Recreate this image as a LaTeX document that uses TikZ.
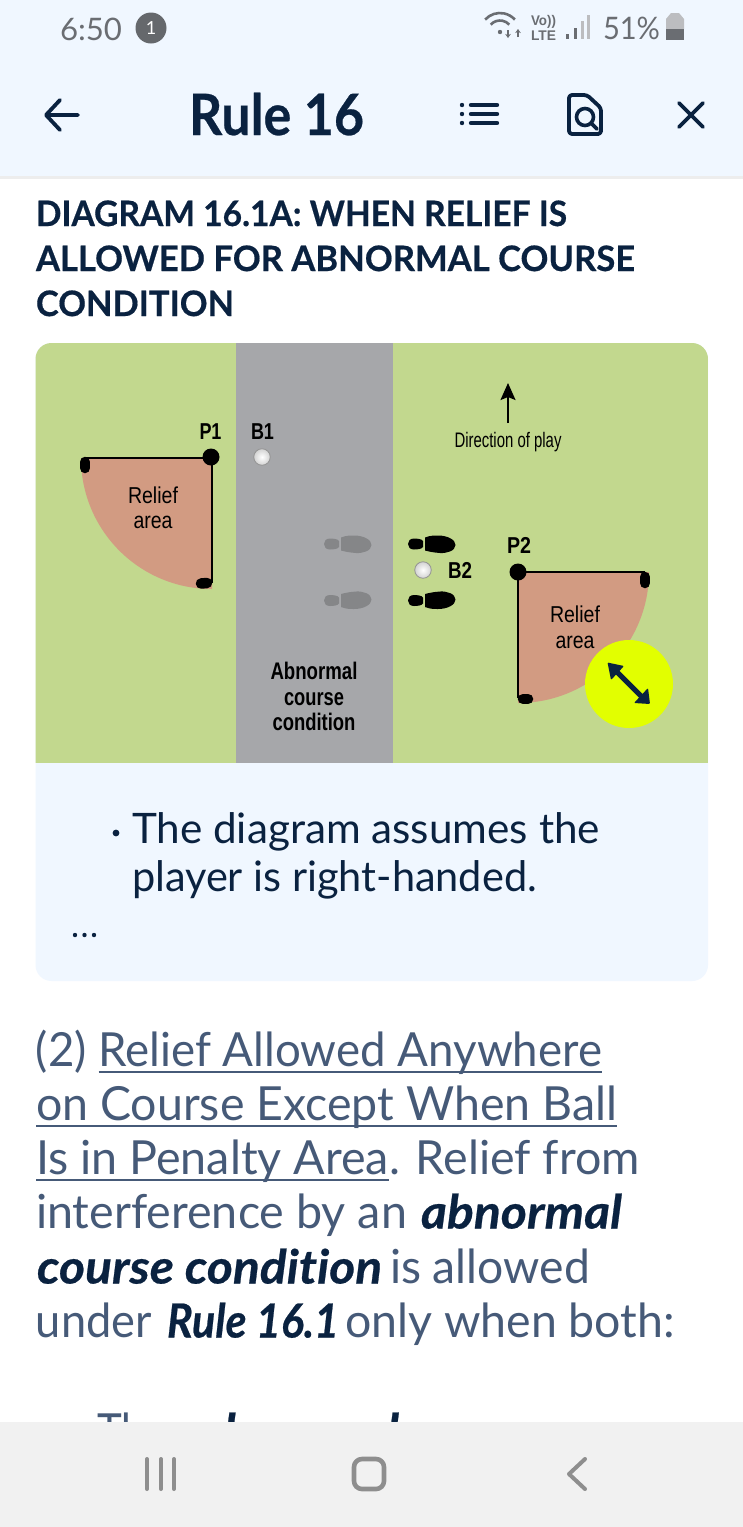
\documentclass[tikz,border=0pt]{standalone}
\usepackage{fontspec}
\usepackage{graphicx}
\setmainfont{Lato}
\newfontfamily\hvy[Ligatures=NoCommon,BoldFeatures={FakeBold=0.5},BoldItalicFeatures={FakeBold=0.5}]{Lato}
\newfontfamily\narrowf{Liberation Sans}
\usetikzlibrary{arrows.meta}
\definecolor{navy}{HTML}{0A2240}
\definecolor{bodyc}{HTML}{465A78}
\definecolor{barc}{HTML}{F0F7FF}
\definecolor{greenc}{HTML}{C2D88E}
\definecolor{greyc}{HTML}{A6A7AA}
\definecolor{footc}{HTML}{858688}
\definecolor{reliefc}{HTML}{D29B82}
\definecolor{yellowc}{HTML}{E2FF00}
\definecolor{statc}{HTML}{6A6D72}
\definecolor{navbar}{HTML}{F1F1F1}
\definecolor{navic}{HTML}{8E8E8E}
\newcommand{\tx}[6][base west]{\node[anchor=#1,inner sep=0pt,outer sep=0pt] (#2) at (#3,#4) {\resizebox{#5pt}{\height}{#6}};}
\newcommand{\ulx}[1]{\setbox0\hbox{#1}\rlap{\rule[-6pt]{\wd0}{2pt}}#1}
\newcommand{\fs}[1]{\fontsize{#1pt}{#1pt}\selectfont}
\newcommand{\lab}{\narrowf\fs{23}}
\newcommand{\labb}{\narrowf\bfseries\fs{23}}
\newcommand{\hb}{\hvy\bfseries}
\newcommand{\hbi}{\hvy\bfseries\itshape}
\newcommand{\footp}[4]{\begin{scope}[shift={(#1,#2)},yscale=#4]
\fill[#3] (6,-5.5) .. controls (2,-5.5) and (0,-3) .. (0,0) .. controls (0,3) and (2,5.5) .. (6,5.5) .. controls (9,5.5) and (14,5) .. (15,3) -- (15,-3) .. controls (14,-5) and (9,-5.5) .. (6,-5.5) -- cycle;
\fill[#3] (17,-6.5) .. controls (22,-8.5) and (26,-8.5) .. (30,-8.5) .. controls (40,-8.5) and (47.500,-4) .. (47.500,1) .. controls (47.500,7) and (38,9.5) .. (32,9) .. controls (25,8.5) and (21,7.5) .. (17,6.5) -- cycle;
\end{scope}}
\tikzset{
  navline/.style={draw=navic,line width=4pt,line cap=round,line join=round},
  icon/.style={draw=navy,line width=3.8pt,line cap=round,line join=round},
  edge/.style={draw=black,line width=2.6pt},
  blob/.style={draw=black,line width=10.500pt,line cap=round},
  ball/.style={circle,draw=gray!85,line width=0.8pt,inner sep=0pt,minimum size=16.500pt,inner color=white,outer color=gray!35},
  statline/.style={draw=statc,line width=2.6pt},
  dot/.style={circle,fill=black,inner sep=0pt,minimum size=17pt}
}
\begin{document}
\begin{tikzpicture}[x=1pt,y=-1pt]
\useasboundingbox (0,0) rectangle (743,1527);
\fill[white] (0,0) rectangle (743,1527);
% top bar
\fill[black!7] (0,176) rectangle (743,179);
\fill[barc] (0,0) rectangle (743,176);
% status
\tx{time}{60}{40}{62}{\color{statc}\fs{31}6:50}
\node[circle,fill=statc!95!black,minimum size=31pt,inner sep=0pt,text=white,font=\fs{18}] (note) at (151,28) {1};
\draw[statline] (500,33) ++(222:20) arc (222:318:20);
\draw[statline] (500,33) ++(222:12.500) arc (222:318:12.500);
\fill[statc] (500,32) circle (2.2);
\draw[statc,line width=1.8pt,-{Stealth[length=4pt,width=5.5pt]}] (508,30) -- (508,38);
\draw[statc,line width=1.8pt,-{Stealth[length=4pt,width=5.5pt]}] (518,37) -- (518,29);
\tx{vo}{531}{25.500}{25}{\color{statc}\narrowf\bfseries\fs{14}Vo))}
\tx{lte}{531}{40}{25}{\color{statc}\narrowf\bfseries\fs{14}LTE}
\fill[statc] (566,34) rectangle (569,39);
\fill[statc] (573.500,28) rectangle (576.500,39);
\fill[statc!45] (580.500,21) rectangle (583.500,39);
\fill[statc!45] (586.500,15) rectangle (589.500,39);
\tx{batt}{603}{39}{57}{\color{statc}\fs{31}51\%}
\fill[statc!45] (671,13) -- (679,13) -- (684,19) -- (684,29) -- (666,29) -- (666,19) -- cycle;
\fill[statc] (666,29) rectangle (684,40);
% header icons
\draw[icon] (78,115) -- (47,115) (60,100) -- (46,115) -- (60,130);
\tx{title}{189}{135}{175}{\color{navy}\hb\fs{57}Rule 16}
\draw[icon,line width=4.4pt] (471,105) -- (497,105) (471,114) -- (497,114) (471,123) -- (497,123);
\fill[navy] (462,105) circle (2.2) (462,114) circle (2.2) (462,123) circle (2.2);
\draw[icon,rounded corners=3pt] (569,95) -- (587,95) -- (601,108) -- (601,134) -- (569,134) -- cycle;
\draw[navy,line width=3.6pt] (585,117) circle (8.500);
\draw[icon] (591,123) -- (597,129);
\draw[icon] (679,103) -- (703,127) (703,103) -- (679,127);
% heading
\tx{h1}{36}{226}{531}{\color{navy}\hb\fs{35}DIAGRAM 16.1A: WHEN RELIEF IS}
\tx{h2}{36}{271}{599}{\color{navy}\hb\fs{35}ALLOWED FOR ABNORMAL COURSE}
\tx{h3}{36}{316}{198}{\color{navy}\hb\fs{35}CONDITION}
% panel
\fill[barc,rounded corners=16pt] (35.500,343) rectangle (708,981);
\begin{scope}
\clip[rounded corners=16pt] (35.500,343) rectangle (708,981);
\fill[greenc] (35,343) rectangle (708,763);
\fill[greyc] (236,343) rectangle (393,763);
\end{scope}
% left relief
\fill[reliefc] (212,458) -- (81,458) .. controls (81,530.4) and (139.6,589) .. (212,589) -- cycle;
\draw[edge] (85,458) -- (212,458) -- (212,583);
\draw[blob] (85,462) -- (85,468);
\draw[blob] (201,583.500) -- (207,583);
\node[dot] (p1) at (211,457) {};
\tx[base]{r1a}{153}{503}{50}{\lab Relief}
\tx[base]{r1b}{153}{528}{39}{\lab area}
\tx[base]{p1l}{210.500}{439}{22}{\labb P1}
\tx[base]{b1l}{262.500}{439}{23}{\labb B1}
\node[ball] (b1) at (262,457) {};
% feet
\footp{324}{544}{footc}{1}
\footp{324}{600.500}{footc}{-1}
\footp{408}{544}{black}{1}
\footp{408}{600.500}{black}{-1}
\node[ball] (b2) at (423,570) {};
\tx{b2l}{448}{578}{24}{\labb B2}
% condition
\tx[base]{c1}{314}{679}{87}{\narrowf\bfseries\fs{24}Abnormal}
\tx[base]{c2}{314}{705}{60}{\narrowf\bfseries\fs{24}course}
\tx[base]{c3}{314}{730}{83}{\narrowf\bfseries\fs{24}condition}
% direction
\coordinate (dirs) at (508,423);
\coordinate (dire) at (508,383);
\draw[black,line width=2pt,-{Stealth[length=17pt,width=15pt,inset=3pt]}] (dirs) -- (dire);
\tx[base]{dirt}{508}{447.500}{107}{\narrowf\fs{21}Direction of play}
% right relief
\fill[reliefc] (518,572) -- (649,572) .. controls (649,644.4) and (590.4,703) .. (518,703) -- cycle;
\draw[edge] (518,698) -- (518,572) -- (645,572);
\draw[blob] (645,577) -- (645,583);
\draw[blob] (523,699) -- (528,699);
\node[dot] (p2) at (518,572) {};
\tx[base]{r2a}{575}{622}{50}{\lab Relief}
\tx[base]{r2b}{575}{648}{39}{\lab area}
\tx[base]{p2l}{519}{553}{24}{\labb P2}
% zoom button
\node[circle,fill=yellowc,minimum size=88pt,inner sep=0pt] (zoomb) at (629,684) {};
\coordinate (za) at (615,670);
\coordinate (zb) at (643,698);
\draw[navy,line width=5pt] (za) -- (zb);
\fill[navy,rounded corners=1pt] (607.500,662.500) -- (624,666) -- (611,680) -- cycle;
\fill[navy,rounded corners=1pt] (650,704) -- (634,703) -- (648,688) -- cycle;
% note
\fill[navy] (116,833) circle (3.4);
\tx{n1}{132}{843}{468}{\color{navy}\fs{42}The diagram assumes the}
\tx{n2}{132}{891}{405}{\color{navy}\fs{42}player is right-handed.}
\fill[navy] (75,935) circle (2.2) (84.500,935) circle (2.2) (94,935) circle (2.2);
% body
\tx{t1}{36}{1066.500}{566}{\color{bodyc}\fs{47}(2) \ulx{Relief Allowed Anywhere}}
\tx{t2}{36}{1120.500}{581}{\color{bodyc}\fs{47}\ulx{on Course Except When Ball}}
\tx{t3}{36}{1174.500}{604}{\color{bodyc}\fs{47}\ulx{Is in Penalty Area}. Relief from}
\tx{t4a}{36}{1228.500}{371}{\color{bodyc}\fs{47}interference by an}
\tx{t4b}{421}{1228.500}{201}{\color{navy}\hbi\fs{47}abnormal}
\tx{t5a}{37}{1283.500}{345}{\color{navy}\hbi\fs{47}course condition}
\tx{t5b}{390}{1283.500}{200}{\color{bodyc}\fs{47}is allowed}
\tx{t6a}{36}{1337.500}{116}{\color{bodyc}\fs{47}under}
\tx{t6b}{167}{1337.500}{172}{\color{navy}\hbi\fs{47}Rule 16.1}
\tx{t6c}{345}{1337.500}{330}{\color{bodyc}\fs{47}only when both:}
\tx{t7a}{97}{1447}{70}{\color{bodyc}\fs{47}The}
\tx{t7b}{198}{1447.500}{201}{\color{navy}\hbi\fs{47}abnormal}
% nav bar
\fill[navbar] (0,1422) rectangle (743,1527);
\draw[navline] (147,1459) -- (147,1489) (161,1459) -- (161,1489) (174,1459) -- (174,1489);
\draw[navline,line width=4.6pt,rounded corners=8pt] (354,1459) rectangle (384,1489);
\draw[navline] (585,1459) -- (569,1474) -- (585,1489);
\end{tikzpicture}
\end{document}
